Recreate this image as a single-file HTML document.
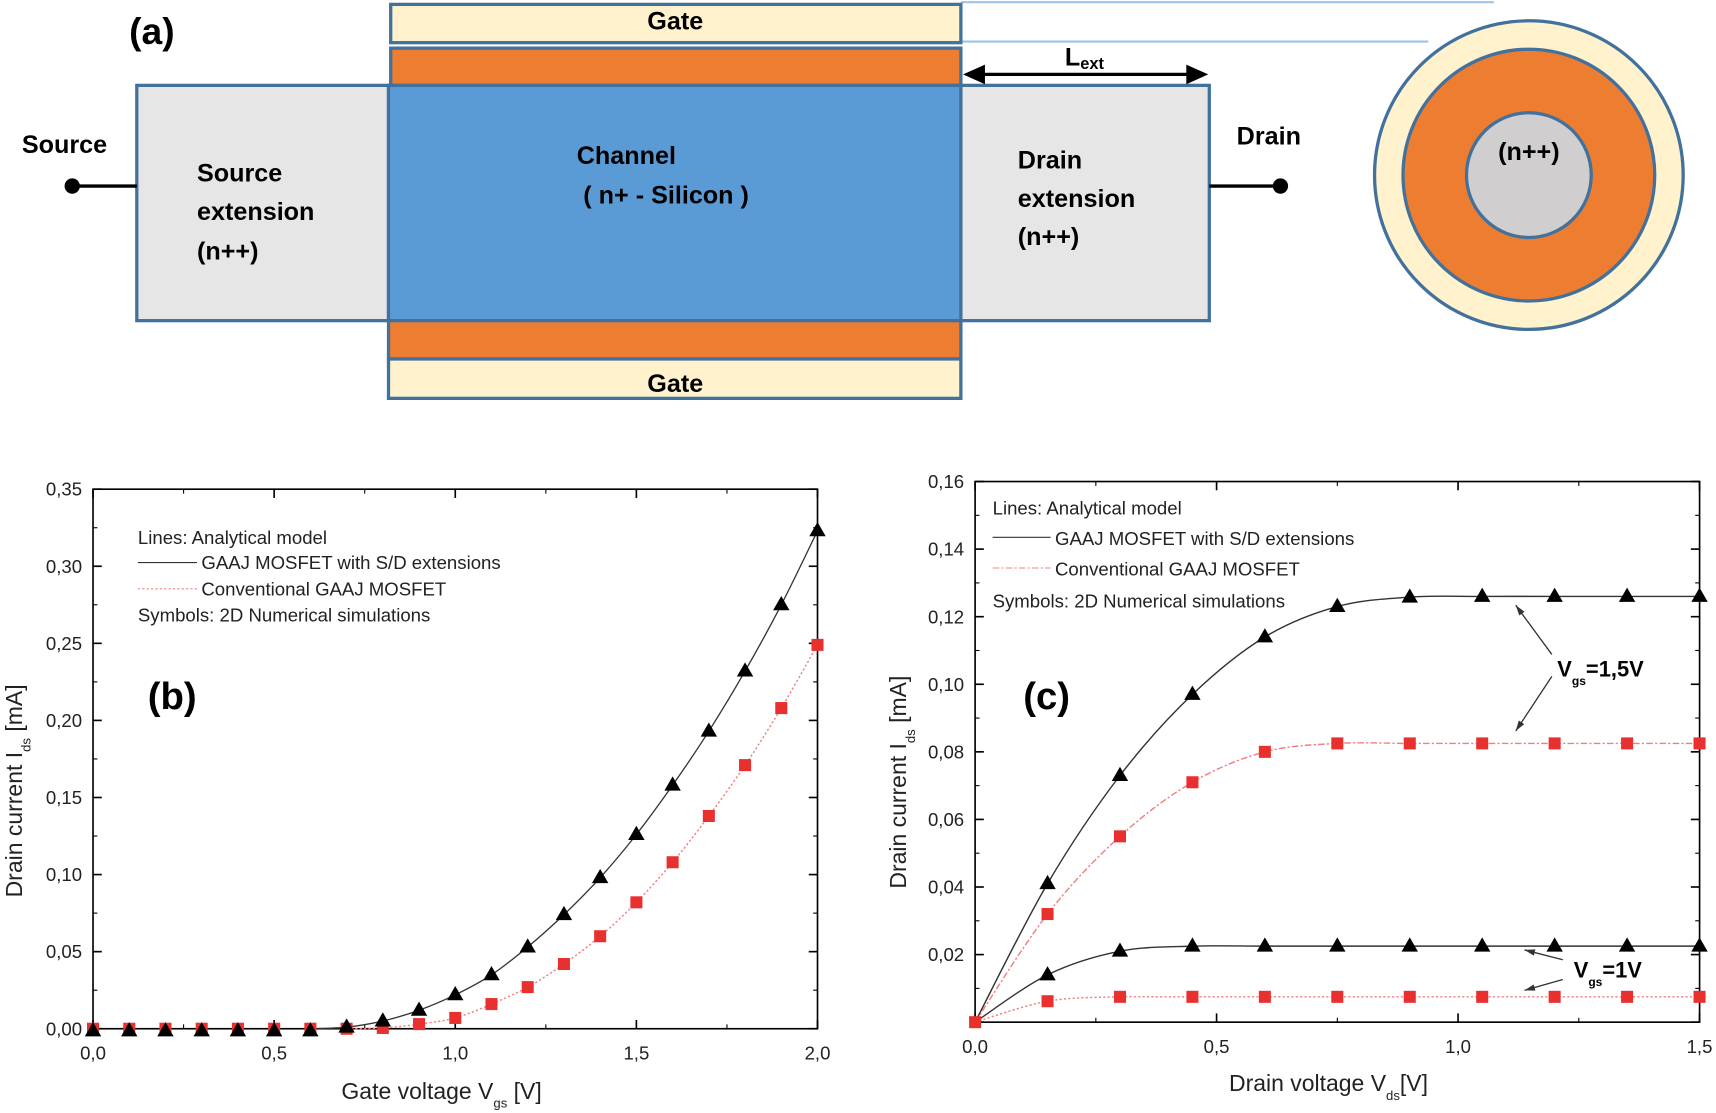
<!DOCTYPE html>
<html><head><meta charset="utf-8"><style>html,body{margin:0;padding:0;background:#fff}svg{display:block}</style></head>
<body>
<svg id="s" width="1716" height="1113" viewBox="0 0 1568 1017" preserveAspectRatio="none" xmlns="http://www.w3.org/2000/svg" font-family="Liberation Sans, sans-serif">
<rect width="1568" height="1017" fill="#fff"/>
<g stroke="#41719c" stroke-width="3">
<line x1="878" y1="2" x2="1365" y2="2" stroke="#9dc3e6" stroke-width="2"/>
<line x1="878" y1="38" x2="1305" y2="38" stroke="#9dc3e6" stroke-width="2"/>
<rect x="357" y="4" width="521" height="35" fill="#fff2cc"/>
<rect x="357" y="44" width="521" height="34" fill="#ed7d31"/>
<rect x="125" y="78" width="230" height="215" fill="#e7e6e6"/>
<rect x="878" y="78" width="227" height="215" fill="#e7e6e6"/>
<rect x="355" y="78" width="523" height="215" fill="#5b9bd5"/>
<rect x="355" y="293" width="523" height="35" fill="#ed7d31"/>
<rect x="355" y="328" width="523" height="36" fill="#fff2cc"/>
<circle cx="1397" cy="160" r="141" fill="#fff2cc"/>
<circle cx="1397" cy="160" r="115" fill="#ed7d31"/>
<circle cx="1397" cy="160" r="57" fill="#d0cece"/>
</g>
<g stroke="#000" stroke-width="3"><line x1="66" y1="170" x2="125" y2="170"/><line x1="1105" y1="170" x2="1170" y2="170"/>
<line x1="892" y1="68" x2="1092" y2="68"/></g>
<circle cx="66" cy="170" r="7"/><circle cx="1170" cy="170" r="7"/>
<path d="M880 68 L900 59 L900 77Z M1104 68 L1084 59 L1084 77Z"/>
<g font-weight="bold" font-size="23" fill="#000">
<text x="118" y="40" font-size="34">(a)</text>
<text x="617" y="27" text-anchor="middle">Gate</text>
<text x="617" y="358" text-anchor="middle">Gate</text>
<text x="973" y="60">L<tspan font-size="15" dy="3">ext</tspan></text>
<text x="20" y="140">Source</text>
<text x="1130" y="132">Drain</text>
<text x="180" y="166">Source</text><text x="180" y="201">extension</text><text x="180" y="237">(n++)</text>
<text x="527" y="150">Channel</text><text x="533" y="186">( n+ - Silicon )</text>
<text x="930" y="154">Drain</text><text x="930" y="189">extension</text><text x="930" y="224">(n++)</text>
<text x="1397" y="146" text-anchor="middle">(n++)</text>
</g>
<g id="plots"></g>
</svg>
<script>
var NS="http://www.w3.org/2000/svg",G=document.getElementById("plots");
function el(t,a,txt){var e=document.createElementNS(NS,t);for(var k in a)e.setAttribute(k,a[k]);if(txt!=null)e.textContent=txt;G.appendChild(e);return e;}
function smooth(p){var d="M"+p[0][0]+" "+p[0][1];for(var i=0;i<p.length-1;i++){var p0=p[i-1]||p[i],p1=p[i],p2=p[i+1],p3=p[i+2]||p2;
d+=" C"+(p1[0]+(p2[0]-p0[0])/6)+" "+(p1[1]+(p2[1]-p0[1])/6)+" "+(p2[0]-(p3[0]-p1[0])/6)+" "+(p2[1]-(p3[1]-p1[1])/6)+" "+p2[0]+" "+p2[1];}return d;}
function tri(x,y){el("path",{d:"M"+x+" "+(y-8)+"L"+(x+7.5)+" "+(y+5)+"L"+(x-7.5)+" "+(y+5)+"Z",fill:"#000"});}
function sq(x,y){el("rect",{x:x-5.5,y:y-5.5,width:11,height:11,fill:"#e8312f"});}
function axes(L,R,T,B,xt,xl,yt,yl,minorX,minorY){
 el("rect",{x:L,y:T,width:R-L,height:B-T,fill:"none",stroke:"#000","stroke-width":1.5});
 xt.forEach(function(x,i){el("line",{x1:x,y1:B,x2:x,y2:B-8,stroke:"#000","stroke-width":1.5});el("line",{x1:x,y1:T,x2:x,y2:T+8,stroke:"#000","stroke-width":1.5});
  el("text",{x:x,y:B+28,"text-anchor":"middle","font-size":17,fill:"#222"},xl[i]);});
 minorX.forEach(function(x){el("line",{x1:x,y1:B,x2:x,y2:B-4,stroke:"#000"});el("line",{x1:x,y1:T,x2:x,y2:T+4,stroke:"#000"});});
 yt.forEach(function(y,i){el("line",{x1:L,y1:y,x2:L+8,y2:y,stroke:"#000","stroke-width":1.5});el("line",{x1:R,y1:y,x2:R-8,y2:y,stroke:"#000","stroke-width":1.5});
  if(yl[i])el("text",{x:L-10,y:y+6,"text-anchor":"end","font-size":17,fill:"#222"},yl[i]);});
 minorY.forEach(function(y){el("line",{x1:L,y1:y,x2:L+4,y2:y,stroke:"#000"});el("line",{x1:R,y1:y,x2:R-4,y2:y,stroke:"#000"});});
}
(function(){var L=85,R=747,T=447,B=940,X=function(v){return L+v*331},Y=function(i){return B-i*1408.6};
var xt=[],mx=[],yt=[],my=[];for(var v=0;v<=2.001;v+=0.5)xt.push(X(v));for(v=0.25;v<2;v+=0.5)mx.push(X(v));
for(v=0;v<=0.3501;v+=0.05)yt.push(Y(v));for(v=0.025;v<0.35;v+=0.05)my.push(Y(v));
axes(L,R,T,B,xt,["0,0","0,5","1,0","1,5","2,0"],yt,["0,00","0,05","0,10","0,15","0,20","0,25","0,30","0,35"],mx,my);
var bk=[[0.6,0],[0.7,0.001],[0.8,0.005],[0.9,0.012],[1.0,0.022],[1.1,0.035],[1.2,0.053],[1.3,0.074],[1.4,0.098],[1.5,0.126],[1.6,0.158],[1.7,0.193],[1.8,0.232],[1.9,0.275],[2.0,0.323]];
var rd=[[0.7,0],[0.8,0.0005],[0.9,0.003],[1.0,0.007],[1.1,0.016],[1.2,0.027],[1.3,0.042],[1.4,0.060],[1.5,0.082],[1.6,0.108],[1.7,0.138],[1.8,0.171],[1.9,0.208],[2.0,0.249]];
el("path",{d:smooth(rd.map(function(p){return[X(p[0]),Y(p[1])]})),fill:"none",stroke:"#f08080","stroke-width":1.3,"stroke-dasharray":"2 2"});
el("path",{d:smooth(bk.map(function(p){return[X(p[0]),Y(p[1])]})),fill:"none",stroke:"#333","stroke-width":1.2});
for(var i=0;i<=7;i++)sq(X(i/10),Y(0));rd.slice(1).forEach(function(p){sq(X(p[0]),Y(p[1]))});
for(i=0;i<=6;i++)tri(X(i/10),Y(0)+2);bk.slice(1).forEach(function(p){tri(X(p[0]),Y(p[1]))});
el("text",{x:126,y:497,"font-size":17,fill:"#222"},"Lines: Analytical model");
el("line",{x1:126,y1:514,x2:180,y2:514,stroke:"#333"});el("text",{x:184,y:520,"font-size":17,fill:"#222"},"GAAJ MOSFET  with S/D extensions");
el("line",{x1:126,y1:538,x2:180,y2:538,stroke:"#f08080","stroke-dasharray":"2 2"});el("text",{x:184,y:544,"font-size":17,fill:"#222"},"Conventional GAAJ MOSFET");
el("text",{x:126,y:568,"font-size":17,fill:"#222"},"Symbols: 2D Numerical simulations");
el("text",{x:135,y:648,"font-size":35,"font-weight":"bold",fill:"#000"},"(b)");
var a=el("text",{x:312,y:1004,"font-size":21,fill:"#222"});a.innerHTML='Gate voltage V<tspan font-size="12" dy="8">gs</tspan><tspan dy="-8"> [V]</tspan>';
var t=el("text",{transform:"translate(20,820) rotate(-90)","font-size":21,fill:"#222"});t.innerHTML='Drain current I<tspan font-size="12" dy="8">ds</tspan><tspan dy="-8"> [mA]</tspan>';
})();
(function(){var L=891,R=1553,T=440,B=934,X=function(v){return L+v*441.3},Y=function(i){return B-i*3087.5};
var xt=[],mx=[],yt=[],my=[];for(var v=0;v<=1.501;v+=0.5)xt.push(X(v));for(v=0.25;v<1.5;v+=0.5)mx.push(X(v));
for(v=0;v<=0.1601;v+=0.02)yt.push(Y(v));for(v=0.01;v<0.16;v+=0.02)my.push(Y(v));
axes(L,R,T,B,xt,["0,0","0,5","1,0","1,5"],yt,["","0,02","0,04","0,06","0,08","0,10","0,12","0,14","0,16"],mx,my);
var xs=[0.15,0.3,0.45,0.6,0.75,0.9,1.05,1.2,1.35,1.5];
var b1=[[0,0],[0.15,0.041],[0.3,0.073],[0.45,0.097],[0.6,0.114],[0.75,0.123],[0.9,0.1258],[1.05,0.126],[1.2,0.126],[1.35,0.126],[1.5,0.126]];
var r1=[[0,0],[0.15,0.032],[0.3,0.055],[0.45,0.071],[0.6,0.080],[0.75,0.0825],[0.9,0.0825],[1.05,0.0825],[1.2,0.0825],[1.35,0.0825],[1.5,0.0825]];
var b2=[[0,0],[0.15,0.014],[0.3,0.0210],[0.45,0.0225],[0.6,0.0225],[0.75,0.0225],[1.5,0.0225]];
var r2=[[0,0],[0.15,0.0062],[0.3,0.0075],[0.45,0.0075],[1.5,0.0075]];
function line(d,c,da){el("path",{d:smooth(d.map(function(p){return[X(p[0]),Y(p[1])]})),fill:"none",stroke:c,"stroke-width":1.3,"stroke-dasharray":da||"none"});}
line(r1,"#f08080","6 2 2 2");line(r2,"#f08080","2 2");line(b1,"#333");line(b2,"#333");
r1.slice(1).forEach(function(p){sq(X(p[0]),Y(p[1]))});
xs.forEach(function(x){sq(X(x),Y(x==0.15?0.0062:0.0075))});
b1.slice(1).forEach(function(p){tri(X(p[0]),Y(p[1]))});
xs.forEach(function(x){tri(X(x),Y(x==0.15?0.014:x==0.3?0.021:0.0225))});
sq(X(0),Y(0));
el("text",{x:907,y:470,"font-size":17,fill:"#222"},"Lines: Analytical model");
el("line",{x1:907,y1:491,x2:960,y2:491,stroke:"#333"});el("text",{x:964,y:498,"font-size":17,fill:"#222"},"GAAJ MOSFET  with S/D extensions");
el("line",{x1:907,y1:519,x2:960,y2:519,stroke:"#f08080","stroke-dasharray":"6 2 2 2"});el("text",{x:964,y:526,"font-size":17,fill:"#222"},"Conventional GAAJ MOSFET");
el("text",{x:907,y:555,"font-size":17,fill:"#222"},"Symbols: 2D Numerical simulations");
el("text",{x:935,y:648,"font-size":35,"font-weight":"bold",fill:"#000"},"(c)");
var g=el("text",{x:1423,y:618,"font-size":20,"font-weight":"bold",fill:"#000"});g.innerHTML='V<tspan font-size="11" dy="8">gs</tspan><tspan dy="-8">=1,5V</tspan>';
g=el("text",{x:1438,y:893,"font-size":20,"font-weight":"bold",fill:"#000"});g.innerHTML='V<tspan font-size="11" dy="8">gs</tspan><tspan dy="-8">=1V</tspan>';
[[1418,598,1385,553],[1418,618,1385,668],[1428,877,1393,868],[1428,895,1393,905]].forEach(function(a){
 el("line",{x1:a[0],y1:a[1],x2:a[2],y2:a[3],stroke:"#333","stroke-width":1.2});
 var ang=Math.atan2(a[3]-a[1],a[2]-a[0]),x=a[2],y=a[3],s=10;
 el("path",{d:"M"+x+" "+y+"L"+(x-s*Math.cos(ang-0.3))+" "+(y-s*Math.sin(ang-0.3))+"L"+(x-s*Math.cos(ang+0.3))+" "+(y-s*Math.sin(ang+0.3))+"Z",fill:"#333"});});
var a=el("text",{x:1123,y:997,"font-size":21,fill:"#222"});a.innerHTML='Drain voltage V<tspan font-size="12" dy="8">ds</tspan><tspan dy="-8">[V]</tspan>';
var t=el("text",{transform:"translate(828,812) rotate(-90)","font-size":21,fill:"#222"});t.innerHTML='Drain current I<tspan font-size="12" dy="8">ds</tspan><tspan dy="-8"> [mA]</tspan>';
})();
</script>
</body></html>
